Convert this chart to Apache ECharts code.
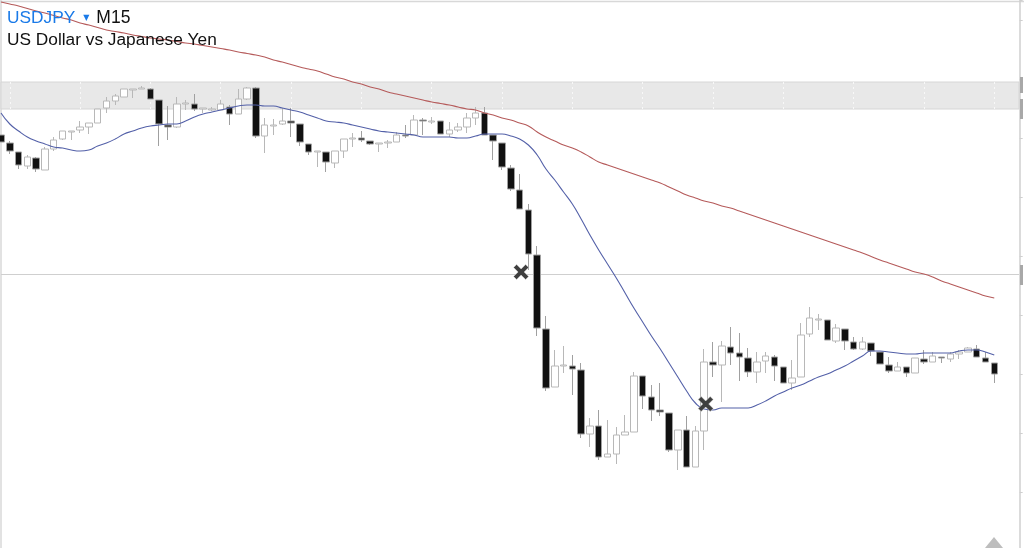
<!DOCTYPE html>
<html>
<head>
<meta charset="utf-8">
<title>USDJPY M15</title>
<script src="https://cdn.jsdelivr.net/npm/echarts@6/dist/echarts.min.js"></script>
<style>
  html, body { margin: 0; padding: 0; background: #fff; }
  #chart { width: 1024px; height: 548px; }
</style>
</head>
<body>
<div id="chart"></div>
<script>
// candles (price scale is not printed, so it is nominal)
var opens = [128.65,128.57,128.48,128.34,128.42,128.30,128.51,128.61,128.68,128.70,128.73,128.77,128.92,128.99,129.03,129.10,129.11,129.11,129.00,128.75,
  128.73,128.96,128.96,128.91,128.90,128.90,128.93,128.86,129.01,129.12,128.64,128.74,128.76,128.79,128.76,128.56,128.48,128.48,128.37,128.49,
  128.61,128.62,128.59,128.56,128.57,128.58,128.65,128.65,128.80,128.78,128.79,128.66,128.70,128.73,128.82,128.87,128.65,128.57,128.32,128.10,
  127.90,127.45,126.71,126.13,126.34,126.34,126.30,125.66,125.74,125.43,125.46,125.65,125.68,126.24,126.03,125.90,125.87,125.50,125.70,125.33,
  125.69,126.38,126.35,126.53,126.47,126.42,126.28,126.39,126.43,126.33,126.17,126.23,126.66,126.80,126.80,126.59,126.71,126.58,126.51,126.57,
  126.48,126.35,126.29,126.33,126.27,126.41,126.38,126.43,126.41,126.46,126.48,126.51,126.42,126.37];
var closes = [128.58,128.49,128.35,128.43,128.31,128.51,128.60,128.69,128.69,128.73,128.77,128.91,128.99,129.04,129.11,129.11,129.12,129.01,128.76,128.73,
  128.96,128.97,128.91,128.92,128.91,128.96,128.86,129.01,129.12,128.64,128.75,128.75,128.79,128.77,128.58,128.48,128.49,128.38,128.49,128.61,
  128.62,128.60,128.56,128.57,128.58,128.65,128.64,128.80,128.79,128.79,128.66,128.70,128.73,128.82,128.87,128.65,128.59,128.33,128.11,127.91,
  127.46,126.72,126.12,126.34,126.35,126.31,125.66,125.74,125.43,125.46,125.65,125.68,126.24,126.04,125.90,125.88,125.50,125.70,125.33,125.69,
  126.38,126.35,126.54,126.47,126.43,126.28,126.38,126.44,126.34,126.17,126.22,126.65,126.82,126.81,126.60,126.72,126.59,126.51,126.58,126.49,
  126.36,126.29,126.33,126.27,126.42,126.38,126.44,126.42,126.46,126.48,126.52,126.43,126.38,126.26];
var lows = [128.58,128.46,128.31,128.31,128.28,128.30,128.49,128.60,128.60,128.67,128.66,128.77,128.87,128.95,129.03,129.02,129.11,129.01,128.54,128.60,
  128.72,128.90,128.89,128.87,128.89,128.90,128.75,128.86,129.00,128.62,128.47,128.65,128.75,128.63,128.54,128.45,128.33,128.28,128.32,128.42,
  128.53,128.58,128.55,128.48,128.52,128.58,128.62,128.65,128.65,128.76,128.66,128.63,128.68,128.67,128.75,128.65,128.40,128.30,128.09,127.91,
  127.30,126.64,126.09,126.13,126.27,126.05,125.62,125.53,125.40,125.43,125.36,125.65,125.68,125.91,125.79,125.84,125.48,125.30,125.33,125.33,
  125.50,126.23,125.98,126.35,126.19,126.23,126.17,126.27,126.19,126.17,126.10,126.23,126.63,126.70,126.60,126.57,126.50,126.50,126.50,126.44,
  126.36,126.27,126.29,126.23,126.27,126.36,126.38,126.37,126.38,126.41,126.48,126.43,126.38,126.17];
var highs = [128.65,128.59,128.48,128.45,128.43,128.53,128.63,128.69,128.69,128.79,128.77,128.91,129.03,129.06,129.11,129.11,129.14,129.12,129.00,128.94,
  129.03,129.00,129.06,128.92,128.93,129.00,128.95,129.11,129.13,129.13,128.82,128.81,128.92,128.92,128.76,128.56,128.49,128.48,128.49,128.61,
  128.67,128.69,128.59,128.57,128.60,128.68,128.75,128.85,128.82,128.83,128.79,128.78,128.77,128.87,128.93,128.93,128.65,128.57,128.35,128.26,
  127.96,127.54,126.84,126.50,126.54,126.45,126.37,125.82,125.90,125.80,125.73,125.85,126.28,126.24,126.15,126.17,125.87,125.70,125.84,125.74,
  126.51,126.58,126.59,126.73,126.67,126.52,126.48,126.48,126.45,126.33,126.40,126.77,126.93,126.86,126.80,126.76,126.71,126.63,126.63,126.57,
  126.48,126.43,126.38,126.33,126.42,126.50,126.48,126.43,126.48,126.50,126.53,126.55,126.48,126.37];

// the two moving averages
var fastMa = [128.87,128.76,128.69,128.63,128.59,128.56,128.53,128.52,128.50,128.49,128.50,128.54,128.57,128.61,128.66,128.69,128.72,128.74,128.75,128.76,
  128.76,128.79,128.83,128.86,128.88,128.90,128.92,128.94,128.95,128.95,128.94,128.94,128.92,128.90,128.88,128.85,128.82,128.79,128.78,128.77,
  128.75,128.73,128.71,128.69,128.68,128.67,128.66,128.65,128.63,128.63,128.63,128.63,128.62,128.62,128.64,128.66,128.66,128.66,128.64,128.61,
  128.55,128.45,128.31,128.20,128.08,127.96,127.81,127.65,127.50,127.36,127.22,127.07,126.92,126.78,126.64,126.51,126.37,126.23,126.09,125.97,
  125.91,125.90,125.92,125.92,125.92,125.92,125.95,125.99,126.04,126.08,126.12,126.15,126.19,126.23,126.26,126.30,126.34,126.39,126.44,126.49,
  126.49,126.48,126.47,126.46,126.46,126.47,126.47,126.47,126.47,126.49,126.50,126.50,126.48,126.45];
var slowMa = [129.98,129.96,129.94,129.915,129.89,129.87,129.845,129.82,129.80,129.77,129.75,129.725,129.70,129.685,129.67,129.65,129.635,129.62,129.61,129.60,
  129.585,129.57,129.56,129.545,129.53,129.515,129.50,129.48,129.465,129.45,129.43,129.40,129.38,129.355,129.33,129.31,129.29,129.26,129.23,129.21,
  129.18,129.16,129.13,129.11,129.08,129.06,129.04,129.02,129.00,128.98,128.965,128.95,128.93,128.91,128.90,128.87,128.85,128.82,128.80,128.77,
  128.74,128.68,128.63,128.59,128.55,128.52,128.48,128.43,128.38,128.35,128.32,128.29,128.26,128.23,128.20,128.17,128.13,128.09,128.05,128.02,
  127.99,127.97,127.94,127.92,127.89,127.86,127.83,127.80,127.77,127.74,127.71,127.68,127.65,127.62,127.59,127.56,127.53,127.50,127.47,127.435,
  127.40,127.37,127.34,127.31,127.28,127.26,127.23,127.19,127.16,127.13,127.10,127.07,127.04,127.02];

// the two X marks: bar index and price
var crossBars = [59, 80];
var crossPrices = [127.28, 125.96];

// levels
var bandTop = 129.18;
var bandBottom = 128.91;
var levelLine = 127.26;
var tabRanges = [[129.23, 129.07], [129.01, 128.81], [127.35, 127.15]];
var gridBars = [1, 9, 17, 25, 33, 41, 49, 57, 65, 73, 81, 89, 97, 105, 113];

var categories = opens.map(function (v, i) { return String(i); });
var candles = opens.map(function (v, i) { return [v, closes[i], lows[i], highs[i]]; });

var crossPath = 'path://M4 0 L10 6 L16 0 L20 4 L14 10 L20 16 L16 20 L10 14 L4 20 L0 16 L6 10 L0 4 Z';

var chart = echarts.init(document.getElementById('chart'));
var option = {
  animation: false,
  backgroundColor: '#fff',
  textStyle: { fontFamily: 'Liberation Sans' },
  title: {
    left: 7,
    top: 9,
    padding: 0,
    itemGap: 5,
    text: '{sym|USDJPY} {arrow|▼} {tf|M15}',
    subtext: 'US Dollar vs Japanese Yen',
    textStyle: {
      fontWeight: 'normal',
      rich: {
        sym: { fontSize: 17.3, color: '#1a7ae8', fontFamily: 'Liberation Sans', fontWeight: 'normal' },
        arrow: { fontSize: 8, color: '#1a7ae8', fontFamily: 'DejaVu Sans', padding: [0, 2, 0, 3] },
        tf: { fontSize: 17.5, color: '#111', fontFamily: 'Liberation Sans', fontWeight: 'normal' }
      }
    },
    subtextStyle: { fontSize: 17.3, color: '#111', fontFamily: 'Liberation Sans' }
  },
  grid: { left: -3.4, top: 0, width: 1002.06, height: 551, outerBoundsMode: 'none' },
  xAxis: {
    type: 'category',
    data: categories,
    boundaryGap: true,
    axisLine: { show: false },
    axisTick: { show: false },
    axisLabel: { show: false },
    splitLine: { show: false }
  },
  yAxis: {
    type: 'value',
    position: 'right',
    offset: 21,
    min: 124.49,
    max: 130,
    interval: 0.59,
    axisLine: { show: true, lineStyle: { color: '#cfcfcf', width: 1.5 } },
    axisTick: { show: true, length: 3, lineStyle: { color: '#cfcfcf' } },
    axisLabel: { show: false },
    splitLine: { show: false }
  },
  series: [
    {
      // background levels only, no line of its own
      name: 'levels',
      type: 'line',
      z: 1,
      silent: true,
      data: [],
      markArea: {
        silent: true,
        z: 1,
        data: [
          [
            { x: 1, yAxis: bandTop, itemStyle: { color: '#e8e8e8', borderColor: '#d6d6d6', borderWidth: 1 } },
            { x: 1019, yAxis: bandBottom }
          ]
        ].concat(tabRanges.map(function (r) {
          return [
            { x: 1020, yAxis: r[0], itemStyle: { color: '#a8a8a8' } },
            { x: 1023, yAxis: r[1] }
          ];
        }))
      },
      markLine: {
        silent: true,
        z: 2,
        symbol: 'none',
        label: { show: false },
        data: [
          [
            { x: 1, yAxis: levelLine, lineStyle: { color: '#cfcfcf', width: 1, type: 'solid' } },
            { x: 1019, yAxis: levelLine }
          ]
        ].concat(gridBars.map(function (b) {
          return [
            { xAxis: b, yAxis: bandTop, lineStyle: { color: '#f8f8f8', width: 1, type: [2, 3] } },
            { xAxis: b, yAxis: bandBottom }
          ];
        }))
      }
    },
    {
      name: 'USDJPY',
      type: 'candlestick',
      z: 3,
      barWidth: 7,
      data: candles,
      itemStyle: {
        color: '#ffffff',
        color0: '#111111',
        borderColor: '#b8b8b8',
        borderColor0: '#a0a0a0',
        borderColorDoji: '#8a8a8a',
        borderWidth: 1
      }
    },
    {
      name: 'MA fast',
      type: 'line',
      z: 4,
      data: fastMa,
      smooth: 0.5,
      symbol: 'none',
      lineStyle: { color: '#5360a8', width: 1.1 }
    },
    {
      name: 'MA slow',
      type: 'line',
      z: 4,
      data: slowMa,
      smooth: 0.5,
      symbol: 'none',
      lineStyle: { color: '#b55a5a', width: 1.1 }
    },
    {
      name: 'marks',
      type: 'scatter',
      z: 5,
      symbol: crossPath,
      symbolSize: 15,
      symbolOffset: [1.5, 0],
      itemStyle: { color: '#3f3f3f', borderColor: '#d8d8d8', borderWidth: 0.5, opacity: 1 },
      data: crossBars.map(function (b, i) { return [b, crossPrices[i]]; })
    }
  ],
  graphic: [
    // frame and the scroll arrow in the corner
    { type: 'line', silent: true, shape: { x1: 0, y1: 1.5, x2: 1024, y2: 1.5 }, style: { stroke: '#d8d8d8', lineWidth: 1.5 } },
    { type: 'line', silent: true, shape: { x1: 1, y1: 0, x2: 1, y2: 548 }, style: { stroke: '#d8d8d8', lineWidth: 1.5 } },
    { type: 'polygon', silent: true, shape: { points: [[994, 537], [1003, 548], [985, 548]] }, style: { fill: '#bdbdbd' } }
  ]
};
chart.setOption(option);
</script>
</body>
</html>
